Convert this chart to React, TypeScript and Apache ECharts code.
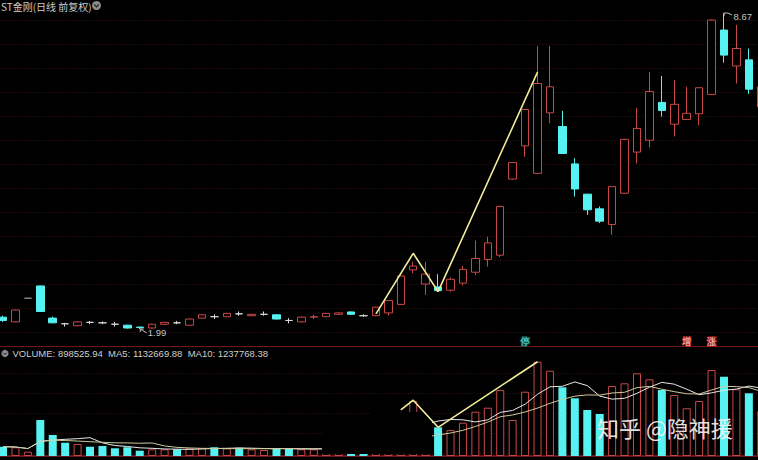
import React, { useEffect, useRef } from "react";
import * as echarts from "echarts";

// Daily OHLC (前复权), one entry per trading day
const opens = [
  2.24, 2.14, 2.64, 2.9, 2.22, 2.1, 2.06, 2.13, 2.12, 2.09,
  2.07, 2.03, 2.01, 2.09, 2.12, 2.07, 2.22, 2.25, 2.25, 2.31,
  2.27, 2.3, 2.29, 2.17, 2.14, 2.24, 2.25, 2.3, 2.35, 2.27,
  2.27, 2.33, 2.51, 3.24, 2.94, 2.88, 2.81, 2.96, 3.19, 3.46,
  3.55, 5.16, 5.86, 5.28, 6.56, 6.27, 5.48, 4.84, 4.53, 4.2,
  4.86, 5.73, 5.98, 6.78, 6.32, 6.42, 6.54, 6.95, 8.31, 7.55,
  7.68, 6.69,
];
const closes = [
  2.17, 2.39, 2.64, 2.36, 2.12, 2.1, 2.14, 2.13, 2.12, 2.09,
  2.01, 2.02, 2.09, 2.13, 2.12, 2.2, 2.29, 2.25, 2.32, 2.31,
  2.3, 2.3, 2.2, 2.17, 2.24, 2.25, 2.32, 2.33, 2.3, 2.27,
  2.45, 2.59, 3.11, 3.32, 3.15, 2.8, 3.04, 3.25, 3.48, 3.81,
  4.58, 5.51, 6.63, 7.18, 7.11, 5.7, 4.95, 4.51, 4.27, 5.0,
  6.0, 6.23, 7.01, 6.61, 6.74, 6.55, 7.09, 8.52, 7.78, 7.92,
  7.06, 7.11,
];
const lows = [
  2.14, 2.13, 2.64, 2.35, 2.11, 2.04, 2.05, 2.09, 2.09, 2.04,
  2.0, 1.99, 2.0, 2.08, 2.09, 2.06, 2.21, 2.2, 2.24, 2.27,
  2.26, 2.27, 2.19, 2.11, 2.13, 2.2, 2.24, 2.29, 2.29, 2.25,
  2.26, 2.27, 2.5, 3.17, 2.71, 2.78, 2.78, 2.91, 3.13, 3.31,
  3.51, 5.15, 5.63, 5.27, 6.34, 5.7, 4.79, 4.4, 4.23, 3.98,
  4.85, 5.49, 5.83, 6.48, 6.06, 6.41, 6.3, 6.94, 7.62, 7.18,
  6.96, 6.65,
];
const highs = [
  2.27, 2.4, 2.64, 2.91, 2.25, 2.12, 2.15, 2.16, 2.15, 2.14,
  2.08, 2.04, 2.1, 2.14, 2.16, 2.21, 2.3, 2.3, 2.33, 2.36,
  2.31, 2.36, 2.3, 2.22, 2.25, 2.29, 2.33, 2.34, 2.36, 2.3,
  2.46, 2.6, 3.12, 3.41, 3.41, 3.15, 3.08, 3.32, 3.86, 3.94,
  4.6, 5.52, 6.64, 7.97, 7.97, 6.6, 5.6, 4.85, 4.58, 5.0,
  6.01, 6.66, 7.42, 7.34, 7.25, 7.11, 7.1, 8.53, 8.67, 8.42,
  7.92, 7.15,
];

// Daily volume (手)
const volumes = [
  133000, 125000, 62000, 516000, 301000, 191000, 172000, 133000, 143000, 110000,
  125000, 76000, 96000, 96000, 96000, 110000, 110000, 125000, 110000, 119000,
  96000, 86000, 110000, 110000, 96000, 96000, 100000, 86000, 86000, 72000,
  172000, 258000, 502000, 788000, 545000, 411000, 373000, 477000, 635000, 692000,
  946000, 516000, 921000, 1351000, 1222000, 985000, 827000, 659000, 602000, 1003000,
  1042000, 1185000, 1099000, 946000, 874000, 684000, 788000, 1232000, 1136000, 956000,
  898525.94, 645000,
];

const days = volumes.map((_, i) => `D${i + 1}`);

// Hand-drawn trend strokes: [day index, value]
const priceTrend = [
  [30, 2.31],
  [33, 3.59],
  [35, 2.78],
  [43, 7.42],
];
const volumeTrend = [
  [32, 660000],
  [33, 800000],
  [35, 411000],
  [43, 1351000],
];

// Extremes marked on the price panel
const highMark = { index: 58, value: 8.67 };
const lowMark = { index: 11, value: 1.99 };

// Event tags under the price panel
const tags = [
  { index: 42, text: "停", kind: "halt" },
  { index: 55, text: "增", kind: "up" },
  { index: 57, text: "涨", kind: "up" },
];

const titleText = "ST金刚(日线 前复权)";
const volumeTitle = "VOLUME: 898525.94  MA5: 1132669.88  MA10: 1237768.38";
const watermark = "知乎 @隐神援";

const RED = "#c84848";
const CYAN = "#56f2f2";
const DOJI = "#d8d8d8";
const GRID_DOT = "#3c1414";

function movingAverage(values: number[], n: number) {
  return values.map((_, i) => {
    const from = Math.max(0, i - n + 1);
    let s = 0;
    for (let k = from; k <= i; k++) s += values[k];
    return +(s / (i - from + 1)).toFixed(2);
  });
}

export default function App() {
  const ref = useRef<HTMLDivElement>(null);

  useEffect(() => {
    document.body.style.margin = "0";
    document.body.style.background = "#000";
    const chart = echarts.init(ref.current!, null, { renderer: "svg" });

    const candles = opens.map((o, i) => {
      const v = [o, closes[i], lows[i], highs[i]];
      if (i === 2) {
        return {
          value: v,
          itemStyle: { borderColor: "#8c8c8c", borderColorDoji: "#8c8c8c" },
        };
      }
      return v;
    });

    const isUp = (i: number) =>
      closes[i] > opens[i] ||
      (closes[i] === opens[i] && (i === 0 || closes[i] >= closes[i - 1]));

    const volBars = volumes.map((v, i) => ({
      value: v,
      itemStyle: isUp(i)
        ? { color: "#000", borderColor: RED, borderWidth: 1 }
        : { color: CYAN, borderColor: CYAN, borderWidth: 0 },
    }));

    // 62 day slots, 12.43px each, first slot starting just left of the page
    const gridL = -3.2;
    const gridW = 770.7;

    chart.setOption({
      animation: false,
      backgroundColor: "#000",
      grid: [
        { left: gridL, width: gridW, top: -4, height: 350, outerBoundsMode: "none" },
        { left: gridL, width: gridW, top: 353, height: 103, outerBoundsMode: "none" },
      ],
      xAxis: [
        {
          type: "category",
          gridIndex: 0,
          data: days,
          boundaryGap: true,
          axisLine: { show: true, onZero: false, lineStyle: { color: "#6a1818", width: 1 } },
          axisTick: { show: false },
          axisLabel: { show: false },
          splitLine: { show: false },
        },
        {
          type: "category",
          gridIndex: 1,
          data: days,
          boundaryGap: true,
          axisLine: { show: true, onZero: false, lineStyle: { color: "#8c1e1e", width: 1.5 } },
          axisTick: { show: false },
          axisLabel: { show: false },
          splitLine: { show: false },
        },
      ],
      yAxis: [
        {
          type: "value",
          gridIndex: 0,
          min: 1.63,
          max: 9.03,
          show: false,
          splitLine: { show: false },
        },
        {
          // dotted guide rows of the price panel
          type: "value",
          gridIndex: 0,
          inverse: true,
          min: 0,
          max: 350,
          interval: 24,
          axisLine: { show: false },
          axisTick: { show: false },
          axisLabel: { show: false },
          splitLine: {
            show: true,
            showMinLine: false,
            showMaxLine: false,
            lineStyle: { color: GRID_DOT, type: [1, 2], width: 1 },
          },
        },
        {
          type: "value",
          gridIndex: 1,
          min: 0,
          max: 1476000,
          show: false,
          splitLine: { show: false },
        },
        {
          // dotted guide rows of the volume panel
          type: "value",
          gridIndex: 1,
          inverse: true,
          min: 0,
          max: 103,
          interval: 20,
          axisLine: { show: false },
          axisTick: { show: false },
          axisLabel: { show: false },
          splitLine: {
            show: true,
            showMinLine: false,
            showMaxLine: false,
            lineStyle: { color: GRID_DOT, type: [1, 2], width: 1 },
          },
        },
      ],
      series: [
        {
          type: "candlestick",
          xAxisIndex: 0,
          yAxisIndex: 0,
          barWidth: 8,
          data: candles,
          itemStyle: {
            color: "#000",
            color0: CYAN,
            borderColor: RED,
            borderColor0: CYAN,
            borderColorDoji: DOJI,
            borderWidth: 1,
          },
          z: 3,
        },
        {
          type: "line",
          xAxisIndex: 0,
          yAxisIndex: 0,
          data: priceTrend,
          symbol: "none",
          lineStyle: { color: "#f2ee9a", width: 1.6 },
          z: 10,
        },
        {
          type: "bar",
          xAxisIndex: 1,
          yAxisIndex: 2,
          barWidth: 8,
          data: volBars,
          z: 2,
        },
        {
          type: "line",
          xAxisIndex: 1,
          yAxisIndex: 2,
          data: movingAverage(volumes, 5),
          symbol: "none",
          lineStyle: { color: "#e8e8e8", width: 1 },
          z: 3,
        },
        {
          type: "line",
          xAxisIndex: 1,
          yAxisIndex: 2,
          data: movingAverage(volumes, 10),
          symbol: "none",
          lineStyle: { color: "#cdc99e", width: 1 },
          z: 3,
        },
        {
          type: "line",
          xAxisIndex: 1,
          yAxisIndex: 2,
          data: volumeTrend,
          symbol: "none",
          lineStyle: { color: "#f2ee9a", width: 1.6 },
          z: 10,
        },
      ],
    });

    const px = (i: number, v: number) =>
      chart.convertToPixel({ seriesIndex: 0 }, [i, v]) as number[];

    const [hx, hy] = px(highMark.index, highMark.value);
    const [lx, ly] = px(lowMark.index, lowMark.value);

    const labelFont = '9.5px "Liberation Sans", Arial, sans-serif';
    const cjk = '"Noto Sans CJK SC", "Noto Sans", sans-serif';

    const tagEls = tags.map((t) => {
      const [tx] = px(t.index, highMark.value);
      return {
        type: "text",
        z: 20,
        style: {
          text: t.text,
          x: tx,
          y: 341,
          align: "center",
          verticalAlign: "middle",
          textAlign: "center",
          textVerticalAlign: "middle",
          font: `9px ${cjk}`,
          fill: t.kind === "halt" ? "#4ee6e6" : "#f6d6d6",
          stroke: t.kind === "halt" ? "rgba(30,90,90,0.9)" : "rgba(190,30,30,0.85)",
          lineWidth: 2,
        },
      };
    });

    chart.setOption({
      graphic: [
        // patch covering part of the volume panel
        {
          type: "polygon",
          z: 5,
          shape: {
            points: [
              [322, 454],
              [322, 420],
              [370, 420],
              [370, 412],
              [432, 412],
              [432, 454],
            ],
          },
          style: { fill: "#000" },
        },
        {
          type: "text",
          z: 20,
          style: {
            text: titleText,
            x: 1,
            y: 6,
            verticalAlign: "middle",
            textVerticalAlign: "middle",
            font: `10px ${cjk}`,
            fill: "#cccccc",
          },
        },
        {
          type: "circle",
          z: 20,
          shape: { cx: 96.5, cy: 5.5, r: 4.5 },
          style: { fill: "#8a8a8a" },
        },
        {
          type: "polyline",
          z: 21,
          shape: { points: [[94.3, 4.5], [96.5, 6.8], [98.7, 4.5]] },
          style: { stroke: "#222", lineWidth: 1.2, fill: null },
        },
        {
          type: "circle",
          z: 20,
          shape: { cx: 5, cy: 353.5, r: 3.6 },
          style: { fill: "#8a8a8a" },
        },
        {
          type: "polyline",
          z: 21,
          shape: { points: [[3.3, 352.8], [5, 354.6], [6.7, 352.8]] },
          style: { stroke: "#222", lineWidth: 1, fill: null },
        },
        {
          type: "text",
          z: 20,
          style: {
            text: volumeTitle,
            x: 12.5,
            y: 353.5,
            verticalAlign: "middle",
            textVerticalAlign: "middle",
            font: labelFont,
            fill: "#cfcfcf",
          },
        },
        // highest price label
        {
          type: "polyline",
          z: 20,
          shape: { points: [[hx, hy + 3], [hx, hy], [hx + 4, hy], [hx + 8, hy + 2]] },
          style: { stroke: "#c4c4c4", lineWidth: 1, fill: null },
        },
        {
          type: "text",
          z: 20,
          style: {
            text: String(highMark.value),
            x: hx + 9.5,
            y: hy + 3.5,
            verticalAlign: "middle",
            textVerticalAlign: "middle",
            font: labelFont,
            fill: "#c4c4c4",
          },
        },
        // lowest price label
        {
          type: "polyline",
          z: 20,
          shape: { points: [[lx + 4, ly], [lx + 0.5, ly], [lx + 0.5, ly + 3]] },
          style: { stroke: "#c4c4c4", lineWidth: 1, fill: null },
        },
        {
          type: "line",
          z: 20,
          shape: { x1: lx + 0.5, y1: ly, x2: lx + 7, y2: ly + 4 },
          style: { stroke: "#c4c4c4", lineWidth: 1 },
        },
        {
          type: "text",
          z: 20,
          style: {
            text: lowMark.value.toFixed(2),
            x: lx + 8,
            y: ly + 4,
            verticalAlign: "middle",
            textVerticalAlign: "middle",
            font: labelFont,
            fill: "#c4c4c4",
          },
        },
        ...tagEls,
        {
          type: "text",
          z: 30,
          style: {
            text: watermark,
            x: 597,
            y: 427,
            verticalAlign: "middle",
            textVerticalAlign: "middle",
            font: `22px ${cjk}`,
            fill: "rgba(245,245,245,0.93)",
          },
        },
      ],
    });

    return () => chart.dispose();
  }, []);

  return (
    <div
      ref={ref}
      style={{ position: "fixed", left: 0, top: 0, width: 758, height: 460, background: "#000" }}
    />
  );
}
